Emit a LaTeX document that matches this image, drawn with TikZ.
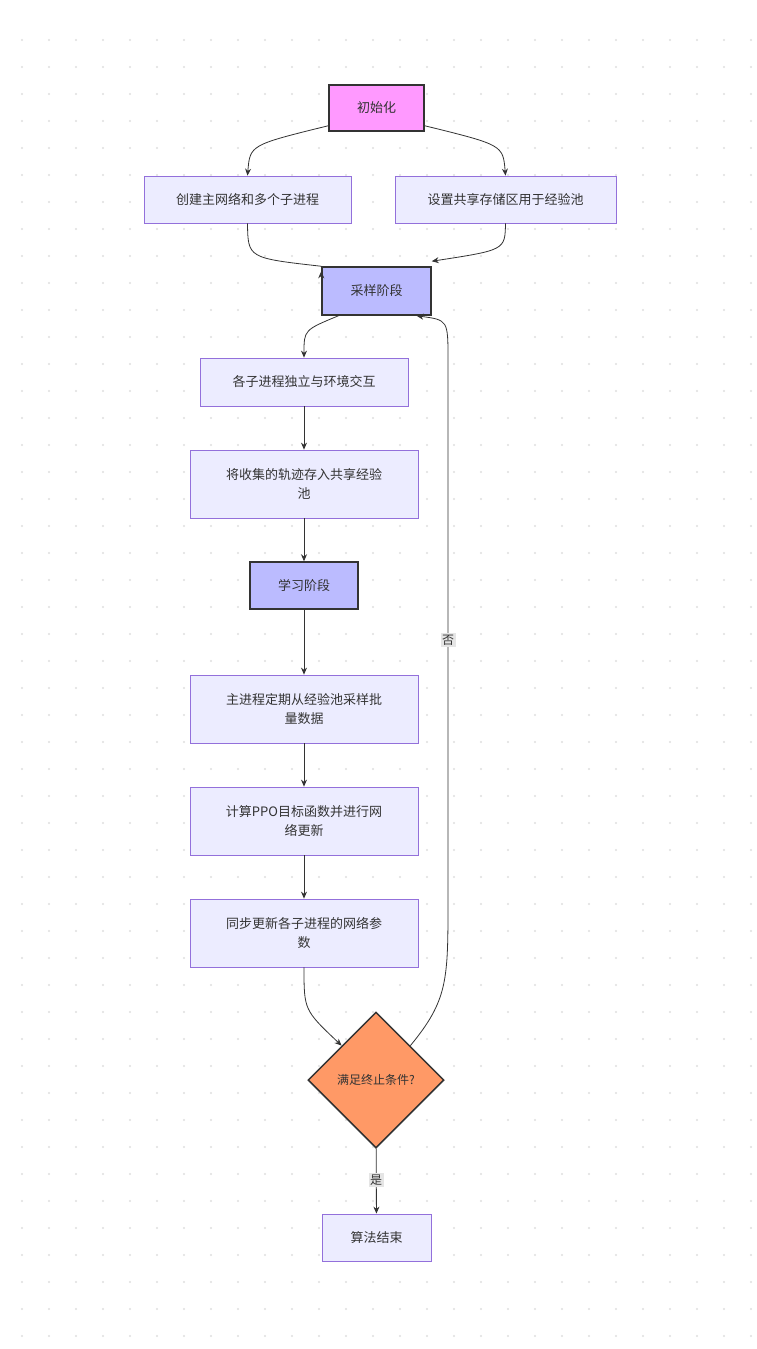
\documentclass[tikz,border=0pt]{standalone}
\usepackage{fontspec}
\setmainfont{Noto Sans CJK SC}
\usetikzlibrary{shapes.geometric,arrows.meta}
\definecolor{bx}{HTML}{ECECFF}
\definecolor{bd}{HTML}{9370DB}
\definecolor{pk}{HTML}{FF99FF}
\definecolor{ph}{HTML}{BBBBFF}
\definecolor{dm}{HTML}{FF9966}
\definecolor{ln}{HTML}{333333}
\begin{document}
\begin{tikzpicture}[x=1pt,y=-1pt,
  font=\fontsize{13}{19}\selectfont, text=ln,
  box/.style={draw=bd,fill=bx,line width=0.8pt,align=center,inner sep=0pt},
  ph/.style={draw=ln,fill=ph,line width=1.5pt,align=center,inner sep=0pt},
  e/.style={draw=ln,line width=0.8pt,-{Stealth[length=7pt,width=6pt]}},
  lb/.style={fill=gray!20,inner sep=1.5pt,font=\fontsize{12}{14}\selectfont}]
\useasboundingbox (0,0) rectangle (756,1349);
\fill[white] (0,0) rectangle (756,1349);
\foreach \i in {0,...,27}{\foreach \j in {0,...,48}{
  \fill[gray!25] (22+27*\i,40+27*\j) circle (1.1);}}
\node[ph,fill=pk,minimum width=95,minimum height=46] (init) at (376.5,108) {初始化};
\node[box,minimum width=207,minimum height=47] (a) at (247.5,199.5) {创建主网络和多个子进程};
\node[box,minimum width=221,minimum height=47] (b) at (505.5,199.5) {设置共享存储区用于经验池};
\node[ph,minimum width=109,minimum height=48] (s) at (376.5,291) {采样阶段};
\node[box,minimum width=208,minimum height=48] (c) at (304,382) {各子进程独立与环境交互};
\node[box,minimum width=228,minimum height=68] (d) at (304,484) {将收集的轨迹存入共享经验\\池};
\node[ph,minimum width=108,minimum height=47] (l) at (304,585.5) {学习阶段};
\node[box,minimum width=228,minimum height=68] (f) at (304,709) {主进程定期从经验池采样批\\量数据};
\node[box,minimum width=228,minimum height=68] (g) at (304,821) {计算PPO目标函数并进行网\\络更新};
\node[box,minimum width=228,minimum height=68] (h) at (304,933) {同步更新各子进程的网络参\\数};
\node[diamond,draw=ln,fill=dm,line width=1.5pt,minimum width=136,minimum height=136,inner sep=0pt,font=\fontsize{12}{14}\selectfont] (q) at (376,1080) {满足终止条件?};
\node[box,minimum width=109,minimum height=47] (end) at (376.5,1237.5) {算法结束};
\draw[e] (init.south west) ++(0,-6) .. controls (250,145) .. (a.north);
\draw[e] (init.south east) ++(0,-6) .. controls (503,145) .. (b.north);
\draw[e] (a.south) .. controls (248,258) .. (s.north west) ++(0,5);
\draw[e] (b.south) .. controls (505,250) .. ([yshift=5]s.north east);
\draw[e] ([xshift=-38]s.south) .. controls (304,330) .. (c.north);
\draw[e] (c) -- (d);
\draw[e] (d) -- (l);
\draw[e] (l) -- (f);
\draw[e] (f) -- (g);
\draw[e] (g) -- (h);
\draw[e] (h.south) .. controls (304,1010) .. (q.north west);
\draw[e] (q.north east) .. controls (448,1000) and (448,980) .. (448,900) -- (448,360) .. controls (448,320) .. ([xshift=40]s.south);
\node[lb] at (448,640) {否};
\draw[e] (q) -- (end) node[lb,pos=0.5] at (376,1180) {};
\node[lb] at (376,1180) {是};
\end{tikzpicture}
\end{document}
